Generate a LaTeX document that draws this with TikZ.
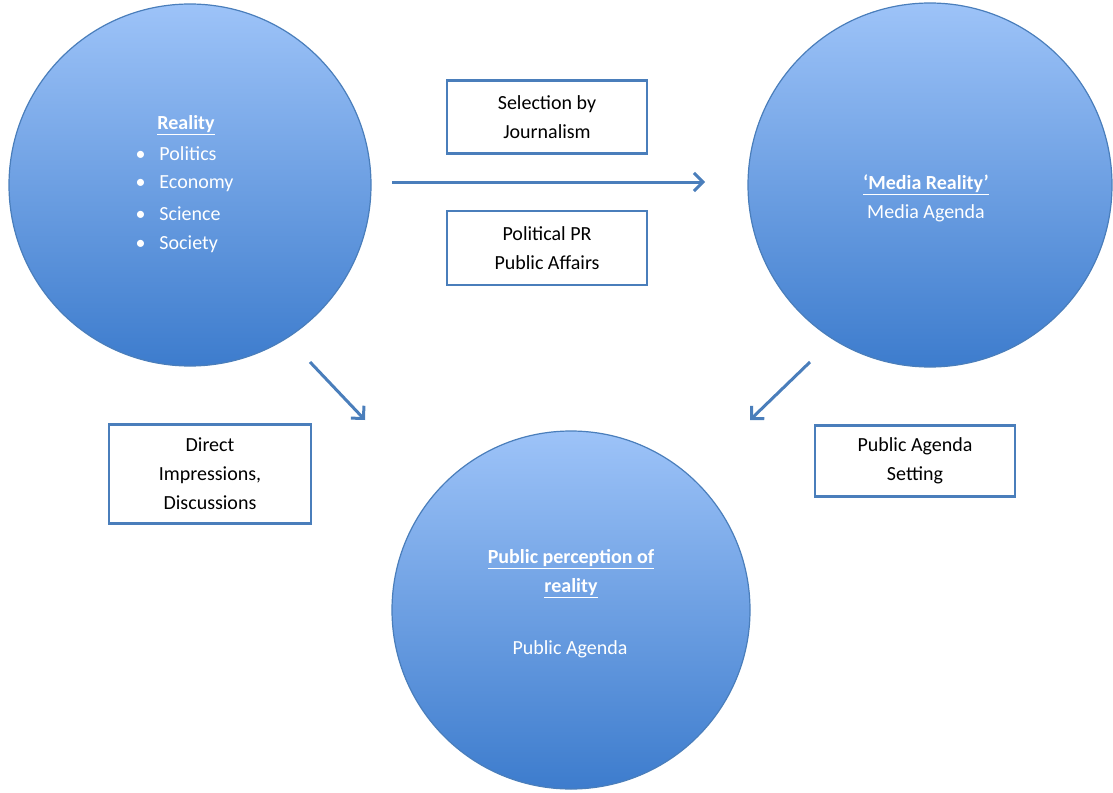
\documentclass[tikz,border=0pt]{standalone}
\usetikzlibrary{arrows.meta}
\usepackage{fontspec}
\setmainfont{Carlito}
\begin{document}
\definecolor{edge}{HTML}{4A7EBB}
\definecolor{ctop}{HTML}{9DC3F8}
\definecolor{cbot}{HTML}{3D7CCD}
\begin{tikzpicture}[x=1pt,y=-1pt,
  circ/.style={circle,draw=edge,line width=1.2pt,top color=ctop,bottom color=cbot,minimum size=#1},
  box/.style={draw=edge,line width=2.5pt,fill=white,minimum width=200pt,align=center,font=\fontsize{20}{29}\selectfont},
  wt/.style={text=white,font=\fontsize{20}{29}\selectfont,align=center},
  arr/.style={draw=edge,line width=3pt,-{Straight Barb[length=9pt,width=18pt]}}]
\useasboundingbox (0,0) rectangle (1113,792);
\node[circ=362pt] (L) at (190,185) {};
\node[circ=364pt] (R) at (930,185) {};
\node[circ=358pt] (B) at (571,610) {};
\node[wt] (lt) at (186,125) {\textbf{\underline{Reality}}};
\foreach \t/\y/\n in {Politics/154/a,Economy/184/b,Science/214/c,Society/244/d}{
  \node[wt,anchor=west] (b\n) at (132,\y) {\textbullet\hspace{14pt}\t};}
\node[wt] (rt) at (926,185) {\textbf{\underline{‘Media Reality’}}};
\node[wt] (ra) at (926,213) {Media Agenda};
\node[wt] (bt) at (571,574) {\textbf{\underline{Public perception of}}\\\textbf{\underline{reality}}};
\node[wt] (ba) at (570,649) {Public Agenda};
\node[box,minimum height=73pt] (s1) at (547,117) {Selection by\\Journalism};
\node[box,minimum height=74pt] (s2) at (547,248) {Political PR\\Public Affairs};
\node[box,minimum height=99pt,minimum width=202pt] (s3) at (210,474) {Direct\\Impressions,\\Discussions};
\node[box,minimum height=71pt] (s4) at (915,461) {Public Agenda\\Setting};
\coordinate (h1) at (392,182); \coordinate (h2) at (705,182);
\coordinate (d1) at (310,362); \coordinate (d2) at (365,420);
\coordinate (e1) at (810,362); \coordinate (e2) at (750,420);
\draw[arr] (h1) -- (h2);
\draw[arr] (d1) -- (d2);
\draw[arr] (e1) -- (e2);
\end{tikzpicture}
\end{document}
